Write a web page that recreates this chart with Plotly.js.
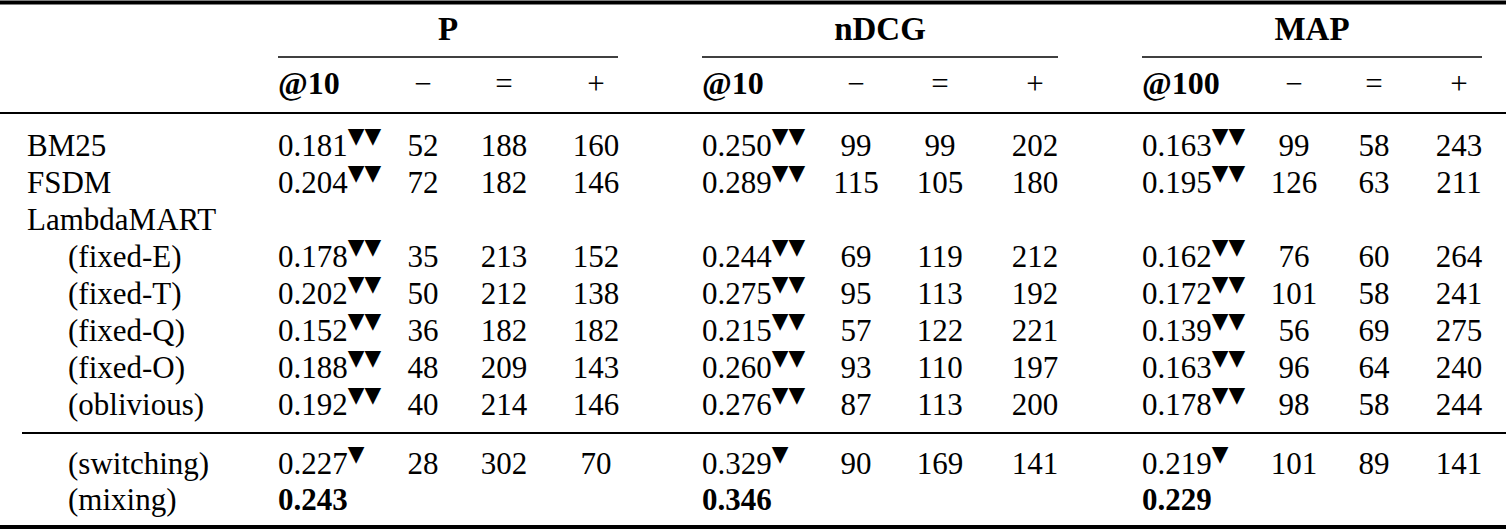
<!DOCTYPE html>
<html><head><meta charset="utf-8">
<script src="https://cdn.plot.ly/plotly-3.0.1.min.js"></script>
<style>html,body{margin:0;padding:0;background:#fff}</style>
</head><body><div id="chart" style="width:1506px;height:531px"></div>
<script>
// ---- data ----
const methods = ['BM25','FSDM','LambdaMART','(fixed-E)','(fixed-T)','(fixed-Q)','(fixed-O)','(oblivious)','(switching)','(mixing)'];
const indented = [false,false,false,true,true,true,true,true,true,true];
const metricNames = ['P','nDCG','MAP'];
const cutoffLabels = ['@10','@10','@100'];
const countLabels = ['\u2212','=','+'];

const pAt10   = [0.181,0.204,null,0.178,0.202,0.152,0.188,0.192,0.227,0.243];
const pSig    = ['\u25BC\u25BC','\u25BC\u25BC','','\u25BC\u25BC','\u25BC\u25BC','\u25BC\u25BC','\u25BC\u25BC','\u25BC\u25BC','\u25BC',''];
const pMinus  = [52,72,null,35,50,36,48,40,28,null];
const pEqual  = [188,182,null,213,212,182,209,214,302,null];
const pPlus   = [160,146,null,152,138,182,143,146,70,null];

const nAt10   = [0.250,0.289,null,0.244,0.275,0.215,0.260,0.276,0.329,0.346];
const nSig    = ['\u25BC\u25BC','\u25BC\u25BC','','\u25BC\u25BC','\u25BC\u25BC','\u25BC\u25BC','\u25BC\u25BC','\u25BC\u25BC','\u25BC',''];
const nMinus  = [99,115,null,69,95,57,93,87,90,null];
const nEqual  = [99,105,null,119,113,122,110,113,169,null];
const nPlus   = [202,180,null,212,192,221,197,200,141,null];

const mAt100  = [0.163,0.195,null,0.162,0.172,0.139,0.163,0.178,0.219,0.229];
const mSig    = ['\u25BC\u25BC','\u25BC\u25BC','','\u25BC\u25BC','\u25BC\u25BC','\u25BC\u25BC','\u25BC\u25BC','\u25BC\u25BC','\u25BC',''];
const mMinus  = [99,126,null,76,101,56,96,98,101,null];
const mEqual  = [58,63,null,60,58,69,64,58,89,null];
const mPlus   = [243,211,null,264,241,275,240,244,141,null];

// ---- layout (positions in pixel units of the axes) ----
const W = 1506, H = 531;
const FS = 31;
const FONT = 'Liberation Serif';
const rowY = [148,185,222,259,296,333,370,407,466,502];
const headY = 32, subY = 86;
const labelX = [27, 68];
const groups = [
  {vals:pAt10, sig:pSig, counts:[pMinus,pEqual,pPlus], xv:278, xc:[423,504,596], rule:[278,618]},
  {vals:nAt10, sig:nSig, counts:[nMinus,nEqual,nPlus], xv:702, xc:[856,940,1035], rule:[702,1058]},
  {vals:mAt100, sig:mSig, counts:[mMinus,mEqual,mPlus], xv:1142, xc:[1294,1374,1459], rule:[1142,1482]}
];

const traces = [];
const font = {family: FONT, size: FS, color: '#000'};
function textTrace(x, y, text, pos, f) {
  return {type:'scatter', mode:'text', x:x, y:y, text:text, textposition:pos,
          textfont:f || font, hoverinfo:'skip', showlegend:false, cliponaxis:false};
}

// row labels
traces.push(textTrace(methods.map((m,i)=>labelX[indented[i]?1:0]), rowY, methods, 'middle right'));

groups.forEach((g, gi) => {
  const best = Math.max(...g.vals.filter(v => v !== null));
  // header
  traces.push(textTrace([(g.rule[0]+g.rule[1])/2], [headY], ['<b>'+metricNames[gi]+'</b>'], 'middle center', {family:FONT, size:33, color:'#000'}));
  traces.push(textTrace([g.xv], [subY], ['<b>'+cutoffLabels[gi]+'</b>'], 'middle right', {family:FONT, size:32, color:'#000'}));
  traces.push(textTrace(g.xc, [subY,subY,subY], countLabels, 'middle center'));
  // values
  const vx=[], vy=[], vt=[];
  g.vals.forEach((v,i) => {
    if (v === null) return;
    vx.push(g.xv); vy.push(rowY[i]);
    const s = v.toFixed(3);
    vt.push(v === best ? '<b>'+s+'</b>' :
      s + (g.sig[i] ? '<sup><span style="font-family:DejaVu Sans">'+g.sig[i]+'</span></sup>' : ''));
  });
  traces.push(textTrace(vx, vy, vt, 'middle right'));
  g.counts.forEach((arr, ci) => {
    const cx=[], cy=[], ct=[];
    arr.forEach((c,i) => { if (c===null) return; cx.push(g.xc[ci]); cy.push(rowY[i]); ct.push(String(c)); });
    traces.push(textTrace(cx, cy, ct, 'middle center'));
  });
});

function hline(x0,x1,y,w){return {type:'line',xref:'x',yref:'y',x0:x0,x1:x1,y0:y,y1:y,line:{color:'#000',width:w}};}
const shapes = [
  hline(0,W,2.5,4),
  hline(0,W,113,1.8),
  hline(22,W,433,1.8),
  hline(0,W,527,4)
];
groups.forEach(g => shapes.push(hline(g.rule[0], g.rule[1], 57, 1.6)));

const layout = {
  width:W, height:H, margin:{l:0,r:0,t:0,b:0},
  font:{family:FONT, size:FS, color:'#000'},
  paper_bgcolor:'#fff', plot_bgcolor:'#fff',
  xaxis:{range:[0,W], visible:false, fixedrange:true},
  yaxis:{range:[H,0], visible:false, fixedrange:true},
  shapes:shapes, showlegend:false
};
Plotly.newPlot('chart', traces, layout, {displayModeBar:false, staticPlot:true});
</script></body></html>
